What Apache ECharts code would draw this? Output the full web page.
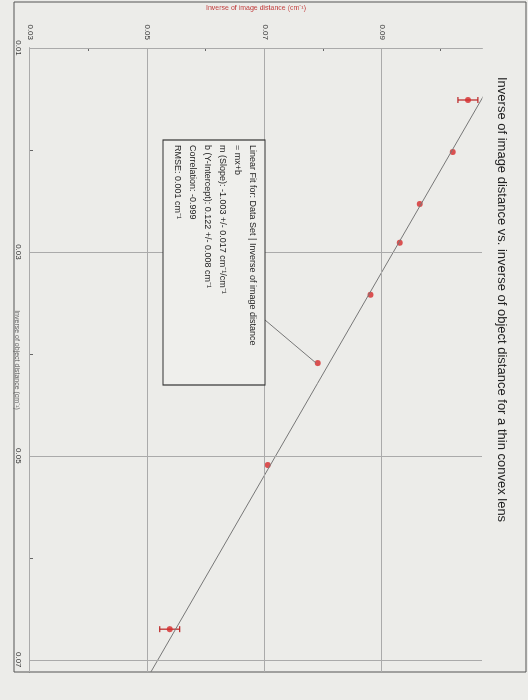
<!DOCTYPE html>
<html><head><meta charset="utf-8">
<script src="https://cdn.jsdelivr.net/npm/echarts@6/dist/echarts.min.js"></script>
<style>
html,body{margin:0;padding:0;background:#e9e9e6;overflow:hidden;}
#c{position:absolute;left:0;top:0;width:700px;height:528px;transform-origin:0 0;transform:translate(528px,0) rotate(90deg);}
</style></head><body><div id="c"></div>
<script>
const xVals = [0.0151, 0.0202, 0.0253, 0.0291, 0.0342, 0.0409, 0.0509, 0.0670];
const yVals = [0.1046, 0.1020, 0.0964, 0.0930, 0.0880, 0.0790, 0.0705, 0.0538];
const yErr  = [0.0017, 0, 0, 0, 0, 0, 0, 0.0017];
const slope = -1.003, intercept = 0.122;
const fitX = [0.0127, 0.0712];
const xTicks = [0.01, 0.03, 0.05, 0.07];
const xMinor = [0.02, 0.04, 0.06];
const yTicks = [0.03, 0.05, 0.07, 0.09];
const yMinor = [0.04, 0.06, 0.08, 0.10];
const fitText = ['Linear Fit for: Data Set | Inverse of image distance','= mx+b','m (Slope): -1.003 +/- 0.017 cm⁻¹/cm⁻¹','b (Y-Intercept): 0.122 +/- 0.008 cm⁻¹','Correlation: -0.999','RMSE: 0.001 cm⁻¹'];

const pts = xVals.map((x,i)=>[x,yVals[i]]);
const fitLine = fitX.map(x=>[x, slope*x+intercept]);
const errData = xVals.map((x,i)=>[x,yVals[i],yErr[i]]).filter(d=>d[2]>0);
const chart = echarts.init(document.getElementById('c'));
const axisCommon = {
  axisLine:{show:true,lineStyle:{color:'#666'}},
  axisLabel:{color:'#333',fontSize:8,fontFamily:'Liberation Sans'},
  nameTextStyle:{fontSize:7,fontFamily:'Liberation Sans'}
};
chart.setOption({
  backgroundColor:'#ecece9',
  animation:false,
  title:{text:'Inverse of image distance vs. inverse of object distance for a thin convex lens',left:72,top:15,textStyle:{fontSize:13,fontWeight:'normal',color:'#222',fontFamily:'Liberation Sans'}},
  grid:{left:48,right:28,top:46,bottom:30,containLabel:false,outerBoundsMode:'none'},
  xAxis:Object.assign({},axisCommon,{type:'value',min:0.01,max:0.0712,
    name:'Inverse of object distance (cm⁻¹)',nameLocation:'middle',nameGap:10,nameMoveOverlap:false,
    axisTick:{show:true,customValues:xTicks.concat(xMinor),length:3,inside:true},
    axisLabel:Object.assign({},axisCommon.axisLabel,{customValues:xTicks,formatter:v=>v.toFixed(2)}),
    splitLine:{show:false}}),
  yAxis:Object.assign({},axisCommon,{type:'value',min:0.03,max:0.107,
    name:'Inverse of image distance (cm⁻¹)',nameLocation:'middle',nameGap:36,nameMoveOverlap:false,
    nameTextStyle:{fontSize:7,color:'#c03a3a',fontFamily:'Liberation Sans'},
    axisTick:{show:true,customValues:yTicks.concat(yMinor),length:3,inside:true},
    axisLabel:Object.assign({},axisCommon.axisLabel,{customValues:yTicks,formatter:v=>v.toFixed(2)}),
    splitLine:{show:false}}),
  series:[
    {type:'line',data:fitLine,symbol:'none',lineStyle:{color:'#777',width:1},silent:true,
     markLine:{silent:true,symbol:'none',label:{show:false},lineStyle:{color:'#aaa',type:'solid',width:1},
       data:xTicks.map(v=>({xAxis:v})).concat(yTicks.map(v=>({yAxis:v})))}},
    {type:'scatter',data:pts,symbolSize:6,itemStyle:{color:'#d62a2a'}},
    {type:'custom',data:errData,renderItem:(p,api)=>{
      const x=api.value(0),y=api.value(1),e=api.value(2);
      const a=api.coord([x,y-e]),b=api.coord([x,y+e]);
      const st={stroke:'#b22',lineWidth:1.2};
      return {type:'group',children:[
        {type:'line',shape:{x1:a[0],y1:a[1],x2:b[0],y2:b[1]},style:st},
        {type:'line',shape:{x1:a[0]-3,y1:a[1],x2:a[0]+3,y2:a[1]},style:st},
        {type:'line',shape:{x1:b[0]-3,y1:b[1],x2:b[0]+3,y2:b[1]},style:st}]};
    }}
  ],
  graphic:[
    {type:'rect',shape:{x:140,y:263,width:245,height:102},style:{fill:'#efefec',stroke:'#333',lineWidth:1.2},z:10},
    {type:'text',x:145,y:268,style:{text:fitText.join('\n'),fontSize:9,lineHeight:15,fill:'#222',fontFamily:'Liberation Sans'},z:11},
    {type:'line',shape:{x1:320,y1:263,x2:363,y2:212},style:{stroke:'#777',lineWidth:1},z:9},
    {type:'rect',shape:{x:2,y:2,width:670,height:512},style:{fill:'none',stroke:'#555',lineWidth:1},z:0}
  ]
});
</script></body></html>
